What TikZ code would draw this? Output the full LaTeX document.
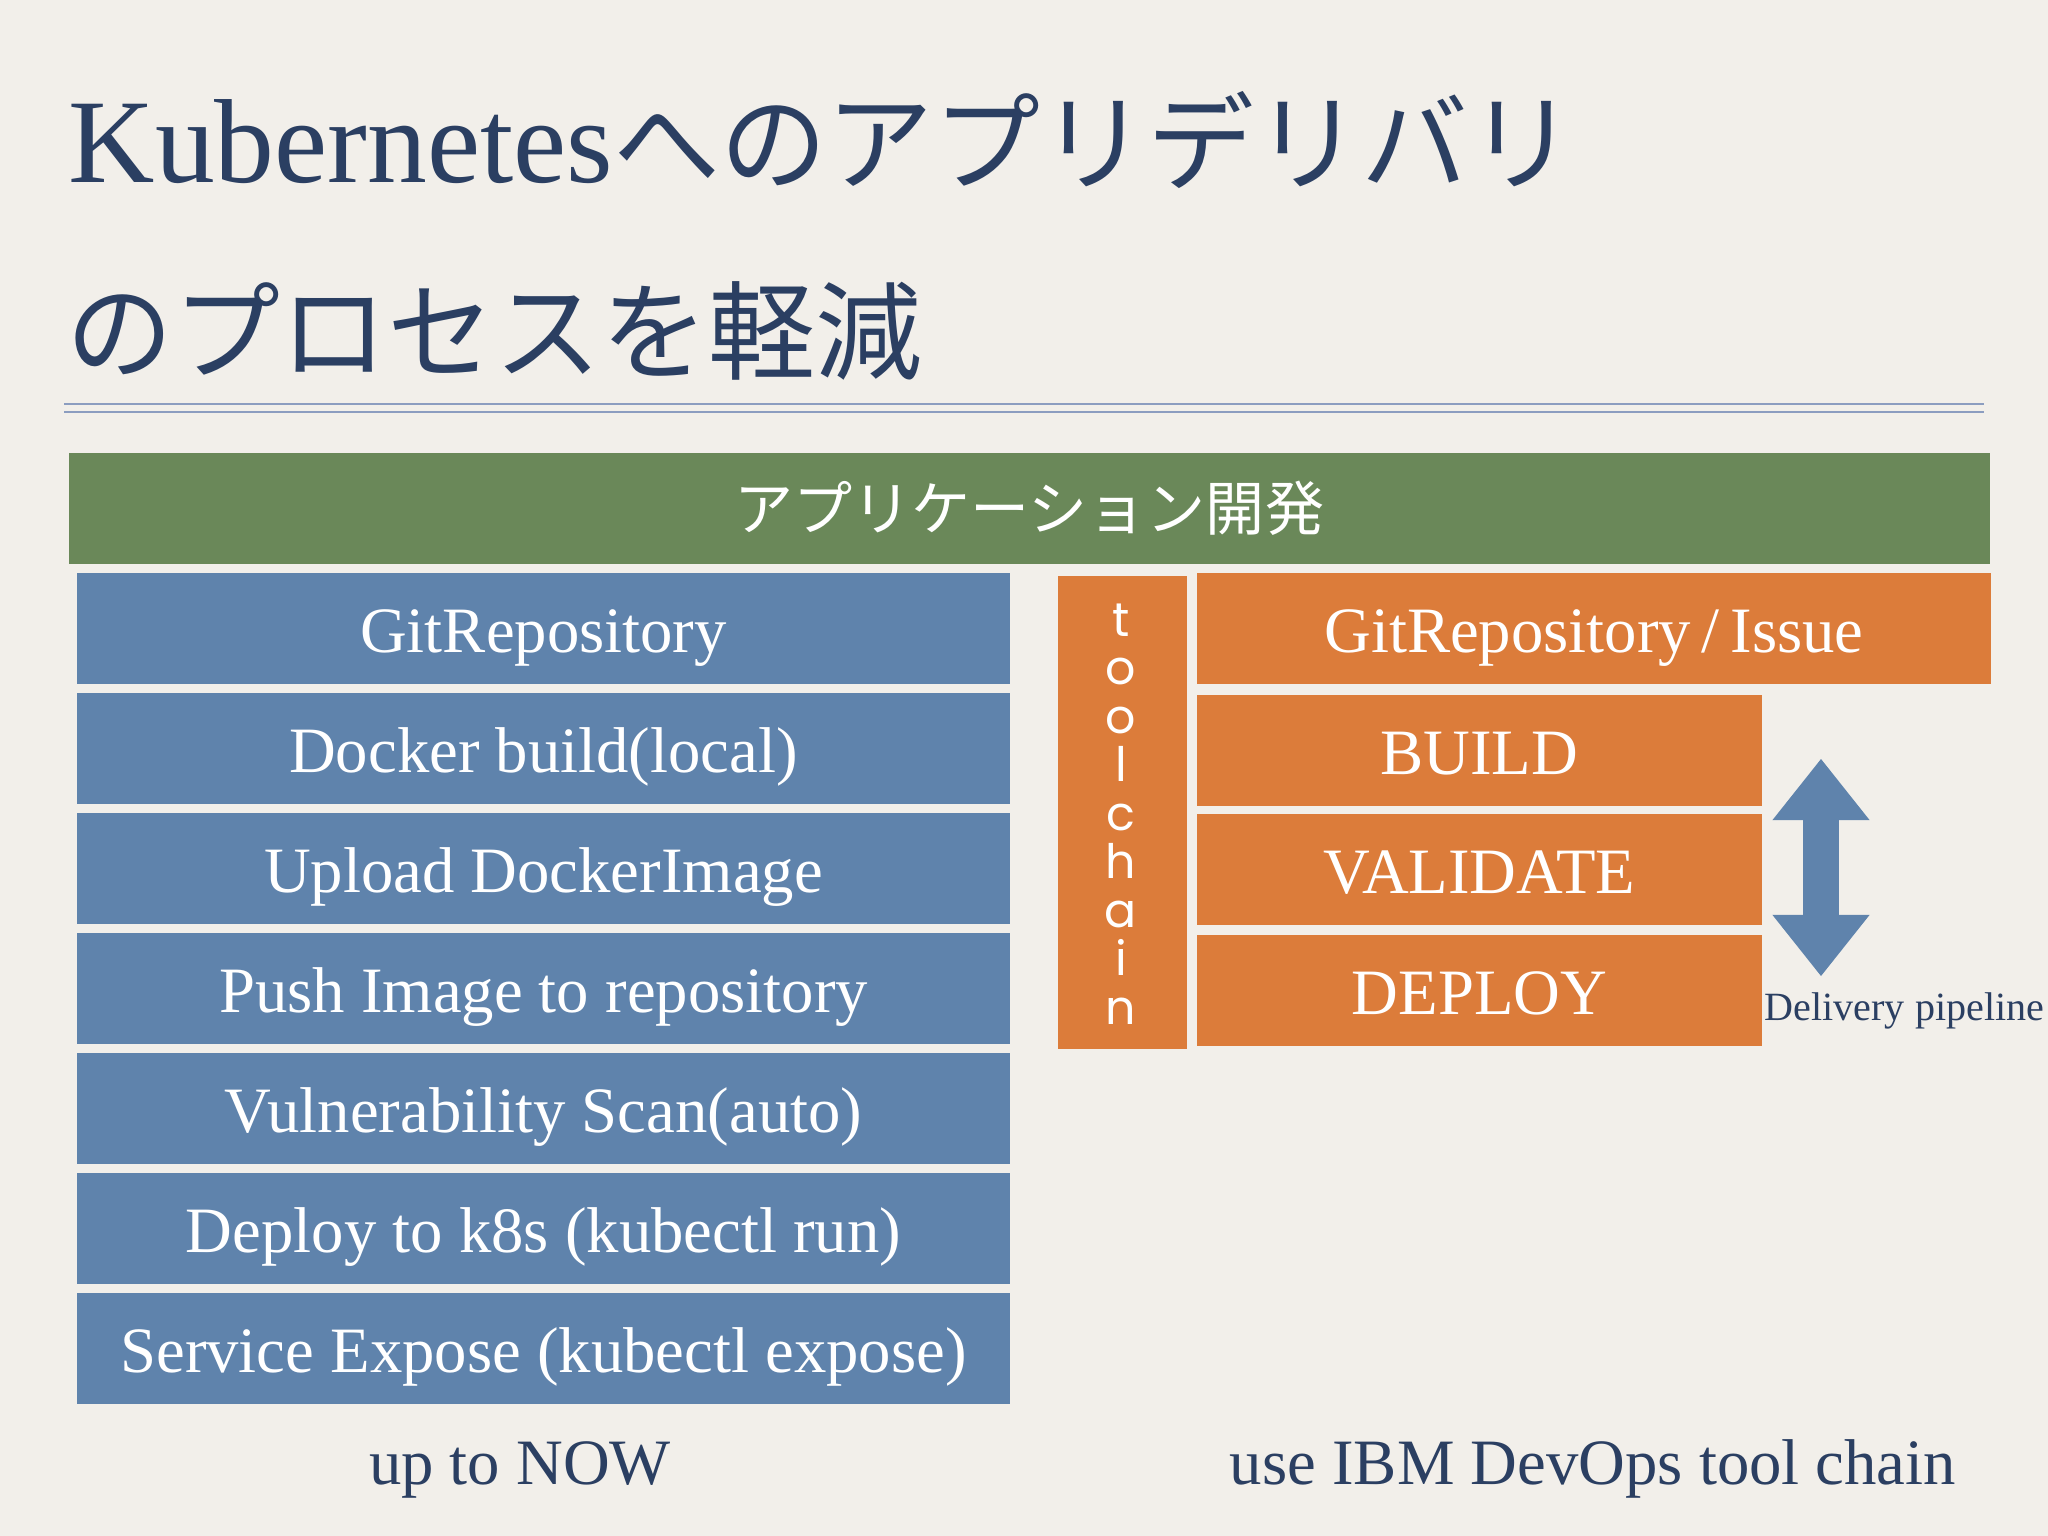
\documentclass[tikz,border=0pt]{standalone}
\usepackage{fontspec}
\setmainfont{Liberation Serif}
\newfontfamily\jp{Noto Sans CJK JP}
\newfontfamily\chainfont{Poppins}
\usetikzlibrary{arrows.meta}
\definecolor{paper}{HTML}{F2EFEA}
\definecolor{navy}{HTML}{2B3F62}
\definecolor{rulecol}{HTML}{8C9DC0}
\definecolor{devgreen}{HTML}{6A8859}
\definecolor{boxblue}{HTML}{5F83AC}
\definecolor{boxorange}{HTML}{DC7C3A}

\begin{document}
\begin{tikzpicture}[x=0.01cm, y=-0.01cm,
    box/.style={anchor=north west, inner sep=0pt, text=white, minimum height=1.11cm,
      text height=14pt, text depth=0pt, font=\fontsize{18.4}{22}\selectfont},
    bluebox/.style={box, fill=boxblue, minimum width=9.33cm},
    orangebox/.style={box, fill=boxorange, minimum width=5.65cm},
    chain/.style={anchor=base, inner sep=0pt, text=white, font=\chainfont\fontsize{13.5}{15}\selectfont},
    label/.style={anchor=base, inner sep=0pt, text=navy, font=\fontsize{18.4}{22}\selectfont},
    rule/.style={draw=rulecol, line width=0.02cm},
    pipe/.style={draw=boxblue, line width=0.36cm,
      {Triangle[width=0.97cm, length=0.61cm, line width=0pt]}-{Triangle[width=0.97cm, length=0.61cm, line width=0pt]}}]
    \useasboundingbox (0,0) rectangle (2048,1536);
    \fill[paper] (0,0) rectangle (2048,1536);
    \node[anchor=base west, inner sep=0pt, text=navy, font=\fontsize{34}{40}\selectfont] (t1) at (68,182)
      {Kubernetes{\jp\fontsize{30.4}{36}\selectfont へのアプリデリバリ}};
    \node[anchor=base west, inner sep=0pt, text=navy, font=\jp\fontsize{30.4}{36}\selectfont] (t2) at (66,371)
      {のプロセスを軽減};
    \draw[rule] (64,404) -- (1984,404);
    \draw[rule] (64,412) -- (1984,412);
    \node[anchor=north west, inner sep=0pt, fill=devgreen, text=white, minimum width=19.2cm, minimum height=1.11cm,
      font=\jp\fontsize{16.8}{20}\selectfont] (dev) at (68,452) {アプリケーション開発};
    \foreach \txt [count=\i] in {GitRepository, Docker build(local), Upload DockerImage,
        Push Image to repository, Vulnerability Scan(auto), Deploy to k8s (kubectl run),
        Service Expose (kubectl expose)}
      \node[bluebox] (b\i) at (76,{572+120*(\i-1)}) {\txt};
    \node[anchor=north west, inner sep=0pt, fill=boxorange, minimum width=1.29cm, minimum height=4.73cm] (tc) at (1057,575) {};
    \foreach \c [count=\i] in {t,o,o,l,c,h,a,i,n}
      \node[chain] (l\i) at (1121,{636+48.5*(\i-1)}) {\c};
    \node[box, fill=boxorange, minimum width=7.94cm] (o1) at (1196,572) {GitRepository\,/\,Issue};
    \node[orangebox] (o2) at (1196,694) {BUILD};
    \node[orangebox] (o3) at (1196,813) {VALIDATE};
    \node[orangebox] (o4) at (1196,934) {DEPLOY};
    \coordinate (ptop) at (1821,759);
    \coordinate (pbot) at (1821,976);
    \draw[pipe] (ptop) -- (pbot);
    \node[anchor=base west, inner sep=0pt, text=navy, font=\fontsize{11.4}{14}\selectfont] (dp) at (1764,1020) {Delivery pipeline};
    \node[label] (now) at (520,1484) {up to NOW};
    \node[label] (ibm) at (1593,1484) {use IBM DevOps tool chain};
\end{tikzpicture}
\end{document}
